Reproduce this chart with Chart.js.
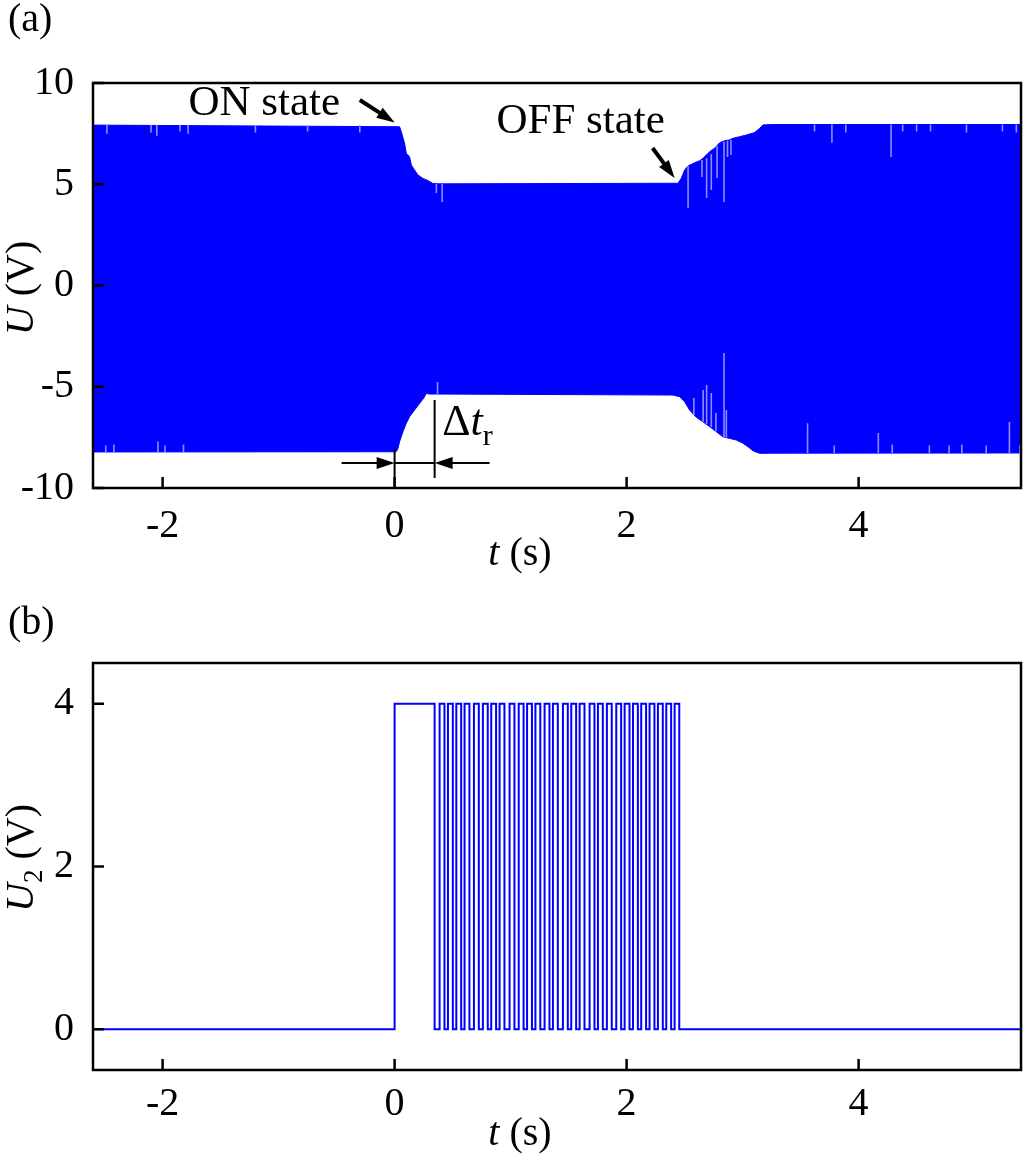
<!DOCTYPE html>
<html lang="en">
<head>
<meta charset="UTF-8">
<title>U and U2 versus t</title>
<script src="https://cdn.jsdelivr.net/npm/chart.js@4.4.7/dist/chart.umd.min.js"></script>
<style>
  body { margin: 0; background: #fff; }
  #wrapA { position: absolute; left: 0; top: 0; width: 1025px; height: 590px; }
  #wrapB { position: absolute; left: 0; top: 590px; width: 1025px; height: 569px; }
</style>
</head>
<body>
<div id="wrapA"><canvas id="chartA" width="1025" height="590"></canvas></div>
<div id="wrapB"><canvas id="chartB" width="1025" height="569"></canvas></div>
<script>
// axis ranges and ticks
const tMin = -2.6, tMax = 5.4;
const tTicks = [-2, 0, 2, 4];
const uTicks = [-10, -5, 0, 5, 10];
const u2Ticks = [0, 2, 4];

// (a) envelope of the oscillating voltage U
const upperT = [-2.6, 0.043, 0.057, 0.086, 0.101, 0.129, 0.144, 0.172, 0.201, 0.244, 0.287, 0.330, 0.388,
                2.442, 2.471, 2.5, 2.529, 2.586, 2.629, 2.658, 2.716, 2.759, 2.802, 2.845, 2.888, 2.917,
                2.974, 3.032, 3.103, 3.147, 3.175, 3.261, 5.4];
const upperU = [7.92, 7.84, 7.60, 7.02, 6.52, 6.36, 5.95, 5.70, 5.46, 5.29, 5.18, 5.04, 5.02,
                5.05, 5.29, 5.70, 5.90, 6.06, 6.16, 6.28, 6.61, 6.78, 7.05, 7.15, 7.19, 7.27,
                7.35, 7.43, 7.55, 7.76, 7.93, 7.95, 7.95];
const lowerT = [-2.6, 0.014, 0.029, 0.043, 0.072, 0.101, 0.129, 0.172, 0.216, 0.250, 0.273, 0.302, 0.359,
                2.399, 2.457, 2.5, 2.543, 2.601, 2.658, 2.716, 2.773, 2.830, 2.888, 2.946, 3.003, 3.046,
                3.089, 3.147, 3.261, 5.4];
const lowerU = [-8.22, -8.21, -8.04, -7.71, -7.22, -6.80, -6.48, -6.15, -5.82, -5.57, -5.33, -5.36, -5.36,
                -5.41, -5.49, -5.74, -6.15, -6.51, -6.73, -6.97, -7.22, -7.47, -7.55, -7.63, -7.79, -7.96,
                -8.16, -8.29, -8.28, -8.27];

// light dropouts that cut into the envelope: time, edge value, tip value
const notchT    = [-2.48, -2.10, -2.05, -1.85, -1.78, -1.20, -0.75, -0.30, 0.36, 0.41,
                   2.53, 2.65, 2.69, 2.73, 2.78, 2.84, 2.87, 2.90, 3.62, 3.77, 3.89, 4.28, 4.38, 4.50, 4.62, 4.93, 5.24, 5.36,
                   -2.49, -2.42, -2.04, -1.98, -1.82, 0.37, 2.58, 2.66, 2.69, 2.73, 2.77, 2.84, 2.86,
                   3.56, 3.79, 4.17, 4.29, 4.61, 4.78, 4.89, 5.10, 5.30, 5.39];
const notchFrom = [7.92, 7.92, 7.92, 7.92, 7.92, 7.92, 7.92, 7.92, 5.02, 5.02,
                   5.90, 6.20, 6.28, 6.50, 6.90, 7.10, 7.15, 7.19, 7.95, 7.95, 7.95, 7.95, 7.95, 7.95, 7.95, 7.95, 7.95, 7.95,
                   -8.22, -8.22, -8.22, -8.22, -8.22, -5.36, -6.40, -6.73, -6.85, -7.00, -7.20, -7.50, -7.50,
                   -8.27, -8.27, -8.27, -8.27, -8.27, -8.27, -8.27, -8.27, -8.27, -8.27];
const notchTo   = [7.50, 7.55, 7.40, 7.60, 7.50, 7.55, 7.60, 7.55, 4.57, 4.12,
                   3.83, 5.36, 4.32, 4.72, 5.31, 4.12, 6.35, 6.44, 7.60, 7.05, 7.55, 6.35, 7.60, 7.60, 7.60, 7.55, 7.60, 7.55,
                   -7.90, -7.85, -7.70, -7.90, -7.85, -4.76, -5.56, -5.16, -4.91, -5.31, -6.30, -3.33, -6.15,
                   -6.80, -7.90, -7.28, -7.85, -7.90, -7.90, -7.85, -7.90, -6.74, -7.90];

// (b) pulse train U2: rising and falling edges (s) and high level (V)
const pulseRise = [0, 0.388, 0.46, 0.532, 0.603, 0.684, 0.761, 0.833, 0.905, 0.991, 1.07, 1.142, 1.214, 1.293,
                   1.365, 1.451, 1.523, 1.595, 1.681, 1.753, 1.830, 1.911, 1.983, 2.055, 2.126, 2.198, 2.27, 2.342, 2.414];
const pulseFall = [0.345, 0.43, 0.502, 0.574, 0.645, 0.726, 0.803, 0.875, 0.947, 1.033, 1.112, 1.184, 1.256, 1.335,
                   1.407, 1.493, 1.565, 1.637, 1.723, 1.795, 1.872, 1.953, 2.025, 2.097, 2.168, 2.240, 2.312, 2.384, 2.454];
const pulseHigh = 4;

const FONT = '"Liberation Serif", "Times New Roman", serif';
const BLUE = '#0000ff';

// text made of pieces: {t, i (italic), sub}
function drawRich(ctx, parts, x, y, size, align) {
  const items = parts.map(p => {
    const s = p.sub ? size * 0.68 : size;
    const f = (p.i ? 'italic ' : '') + s + 'px ' + FONT;
    ctx.font = f;
    return { p, f, w: ctx.measureText(p.t).width };
  });
  const total = items.reduce((a, it) => a + it.w, 0);
  let cx = align === 'right' ? x - total : align === 'left' ? x : x - total / 2;
  ctx.textAlign = 'left';
  ctx.textBaseline = 'alphabetic';
  ctx.fillStyle = '#000';
  items.forEach(it => {
    ctx.font = it.f;
    ctx.fillText(it.p.t, cx, y + (it.p.sub ? size * 0.22 : 0));
    cx += it.w;
  });
}

function arrow(ctx, x1, y1, x2, y2) {
  const a = Math.atan2(y2 - y1, x2 - x1);
  const hl = 18, hw = 6;
  ctx.beginPath();
  ctx.moveTo(x1, y1);
  ctx.lineTo(x2 - Math.cos(a) * hl * 0.8, y2 - Math.sin(a) * hl * 0.8);
  ctx.stroke();
  ctx.beginPath();
  ctx.moveTo(x2, y2);
  ctx.lineTo(x2 - Math.cos(a) * hl - Math.sin(a) * hw, y2 - Math.sin(a) * hl + Math.cos(a) * hw);
  ctx.lineTo(x2 - Math.cos(a) * hl + Math.sin(a) * hw, y2 - Math.sin(a) * hl - Math.cos(a) * hw);
  ctx.closePath();
  ctx.fill();
}

// frame round the plot and inward ticks on the bottom and left axes
const framePlugin = {
  id: 'frame',
  afterDraw(chart) {
    const { ctx, chartArea: a, scales } = chart;
    ctx.save();
    ctx.strokeStyle = '#000';
    ctx.lineWidth = 2.5;
    ctx.strokeRect(a.left, a.top, a.right - a.left, a.bottom - a.top);
    ctx.beginPath();
    scales.x.ticks.forEach(tk => {
      const px = scales.x.getPixelForValue(tk.value);
      ctx.moveTo(px, a.bottom);
      ctx.lineTo(px, a.bottom - 11);
    });
    scales.y.ticks.forEach(tk => {
      const py = scales.y.getPixelForValue(tk.value);
      ctx.moveTo(a.left, py);
      ctx.lineTo(a.left + 11, py);
    });
    ctx.stroke();
    ctx.restore();
  }
};

function labelsPlugin(panel, yParts, yCenter, titleBase) {
  return {
    id: 'labels' + panel,
    afterDraw(chart) {
      const { ctx } = chart;
      ctx.save();
      drawRich(ctx, [{ t: panel }], 8, panel === '(a)' ? 31 : 44, 40, 'left');
      drawRich(ctx, [{ t: 't', i: true }, { t: ' (s)' }], 520, titleBase, 40, 'center');
      ctx.translate(33, yCenter);
      ctx.rotate(-Math.PI / 2);
      drawRich(ctx, yParts, 0, 0, 40, 'center');
      ctx.restore();
    }
  };
}

// arrows and notes of panel (a), placed in data coordinates
const notesPlugin = {
  id: 'notes',
  afterDraw(chart) {
    const { ctx, scales: { x, y } } = chart;
    const X = v => x.getPixelForValue(v), Y = v => y.getPixelForValue(v);
    ctx.save();
    ctx.strokeStyle = '#000';
    ctx.fillStyle = '#000';
    drawRich(ctx, [{ t: 'ON state' }], X(-0.47), Y(8.42), 43, 'right');
    drawRich(ctx, [{ t: 'OFF state' }], X(2.33), Y(7.53), 43, 'right');
    ctx.lineWidth = 4;
    arrow(ctx, X(-0.30), Y(9.16), X(0.0), Y(8.05));
    arrow(ctx, X(2.224), Y(6.79), X(2.414), Y(5.31));
    // delta t_r marker
    ctx.lineWidth = 2;
    ctx.beginPath();
    ctx.moveTo(X(0.345), Y(-5.65)); ctx.lineTo(X(0.345), Y(-9.51));
    ctx.moveTo(X(0), Y(-8.1)); ctx.lineTo(X(0), Y(-10));
    ctx.moveTo(X(0.0), Y(-8.77)); ctx.lineTo(X(0.345), Y(-8.77));
    ctx.stroke();
    arrow(ctx, X(-0.457), Y(-8.77), X(0.0), Y(-8.77));
    arrow(ctx, X(0.819), Y(-8.77), X(0.345), Y(-8.77));
    drawRich(ctx, [{ t: '\u0394' }, { t: 't', i: true }, { t: 'r', sub: true }], X(0.41), Y(-7.38), 44, 'left');
    ctx.restore();
  }
};

function tickSetter(list) {
  return scale => { scale.ticks = list.map(v => ({ value: v })); };
}

function axes(yMin, yMax, yList, xPad) {
  return {
    x: {
      type: 'linear', min: tMin, max: tMax,
      afterBuildTicks: tickSetter(tTicks),
      grid: { display: false, drawTicks: false }, border: { display: false },
      ticks: { font: { family: FONT, size: 40 }, color: '#000', padding: xPad, maxRotation: 0,
               callback: v => String(v) }
    },
    y: {
      type: 'linear', min: yMin, max: yMax,
      afterBuildTicks: tickSetter(yList),
      grid: { display: false, drawTicks: false }, border: { display: false },
      ticks: { font: { family: FONT, size: 40 }, color: '#000', padding: 19,
               callback: v => String(v) },
      afterFit: s => { s.width = 93; }
    }
  };
}

const pts = (ts, vs) => ts.map((t, i) => ({ x: t, y: vs[i] }));

const notchPts = [];
notchT.forEach((t, i) => {
  notchPts.push({ x: t, y: notchFrom[i] }, { x: t, y: notchTo[i] }, { x: t, y: null });
});

const scalesA = axes(-10, 10, uTicks, 14);
scalesA.x.afterFit = s => { s.height = 102; };

new Chart(document.getElementById('chartA'), {
  type: 'line',
  data: {
    datasets: [
      { data: notchPts, borderColor: '#8c8cff', borderWidth: 1.6, pointRadius: 0, fill: false, spanGaps: false },
      // upper half filled past zero so no seam shows where the two fills meet
      { data: pts(upperT, upperU), borderColor: BLUE, borderWidth: 1, backgroundColor: BLUE, pointRadius: 0, fill: { value: -1 } },
      { data: pts(lowerT, lowerU), borderColor: BLUE, borderWidth: 1, backgroundColor: BLUE, pointRadius: 0, fill: 'origin' }
    ]
  },
  options: {
    responsive: false, animation: false,
    layout: { padding: { top: 83, right: 4, left: 0, bottom: 0 } },
    plugins: { legend: { display: false }, tooltip: { enabled: false } },
    scales: scalesA
  },
  plugins: [framePlugin, notesPlugin, labelsPlugin('(a)', [{ t: 'U', i: true }, { t: ' (V)' }], 288, 565)]
});

// step line of the pulse train
const pulsePts = [{ x: tMin, y: 0 }];
pulseRise.forEach((r, i) => {
  pulsePts.push({ x: r, y: 0 }, { x: r, y: pulseHigh }, { x: pulseFall[i], y: pulseHigh }, { x: pulseFall[i], y: 0 });
});
pulsePts.push({ x: tMax, y: 0 });

const scalesB = axes(-0.5, 4.5, u2Ticks, 10);
scalesB.x.afterFit = s => { s.height = 89; };

new Chart(document.getElementById('chartB'), {
  type: 'line',
  data: {
    datasets: [
      { data: pulsePts, borderColor: BLUE, borderWidth: 2, pointRadius: 0, fill: false, tension: 0 }
    ]
  },
  options: {
    responsive: false, animation: false,
    layout: { padding: { top: 73, right: 4, left: 0, bottom: 0 } },
    plugins: { legend: { display: false }, tooltip: { enabled: false } },
    scales: scalesB
  },
  plugins: [framePlugin, labelsPlugin('(b)', [{ t: 'U', i: true }, { t: '2', sub: true }, { t: ' (V)' }], 268, 555)]
});
</script>
</body>
</html>
